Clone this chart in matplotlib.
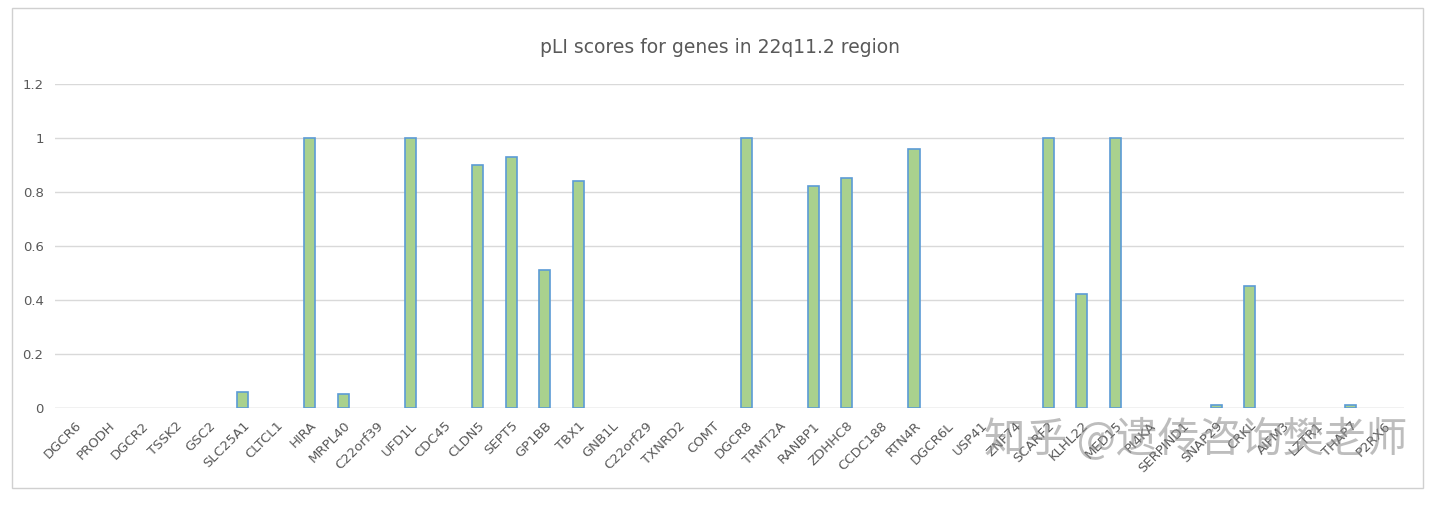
import matplotlib.pyplot as plt
from matplotlib.patches import Rectangle

plt.rcParams['font.family'] = ['DejaVu Sans', 'Noto Sans CJK SC']

genes = ["DGCR6", "PRODH", "DGCR2", "TSSK2", "GSC2", "SLC25A1", "CLTCL1", "HIRA",
         "MRPL40", "C22orf39", "UFD1L", "CDC45", "CLDN5", "SEPT5", "GP1BB", "TBX1",
         "GNB1L", "C22orf29", "TXNRD2", "COMT", "DGCR8", "TRMT2A", "RANBP1", "ZDHHC8",
         "CCDC188", "RTN4R", "DGCR6L", "USP41", "ZNF74", "SCARF2", "KLHL22", "MED15",
         "PI4KA", "SERPIND1", "SNAP29", "CRKL", "AIFM3", "LZTR1", "THAP7", "P2RX6"]
pli = [0, 0, 0, 0, 0, 0.06, 0, 1.0,
       0.05, 0, 1.0, 0, 0.90, 0.93, 0.51, 0.84,
       0, 0, 0, 0, 1.0, 0, 0.82, 0.85,
       0, 0.96, 0, 0, 0, 1.0, 0.42, 1.0,
       0, 0, 0.01, 0.45, 0, 0, 0.01, 0]

fig = plt.figure(figsize=(14.4, 5.08), dpi=100)
fig.patches.append(Rectangle((0.008, 0.04), 0.98, 0.945, transform=fig.transFigure,
                             fill=False, edgecolor='#d0d0d0', lw=1))
ax = fig.add_axes([0.038, 0.197, 0.937, 0.638])
x = list(range(len(genes)))
# zero-height bars get no outline so they vanish like in the original
edge_w = [1.2 if v > 0 else 0 for v in pli]
ax.bar(x, pli, width=0.33, color='#a9d18e', edgecolor='#5b9bd5', linewidth=edge_w, zorder=3)
ax.set_xlim(-0.6, len(genes) - 0.4)
ax.set_ylim(0, 1.2)
ax.set_yticks([0, 0.2, 0.4, 0.6, 0.8, 1, 1.2])
ax.set_yticklabels(['0', '0.2', '0.4', '0.6', '0.8', '1', '1.2'], color='#595959', fontsize=9.5)
ax.set_xticks(x)
ax.set_xticklabels(genes, rotation=45, ha='right', rotation_mode='anchor',
                   fontsize=9.5, color='#595959')
ax.tick_params(length=0, pad=8)
ax.grid(axis='y', color='#d9d9d9', lw=1, zorder=0)
for s in ax.spines.values():
    s.set_visible(False)
ax.axhline(0, color='#d9d9d9', lw=1, zorder=1)
fig.text(0.5, 0.895, 'pLI scores for genes in 22q11.2 region', ha='center',
         fontsize=13.5, color='#595959')
fig.text(0.83, 0.11, '知乎 @遗传咨询樊老师', ha='center', fontsize=30,
         color='#888888', alpha=0.55, family=['Noto Sans CJK SC', 'DejaVu Sans'])

fig.savefig('out.png')
